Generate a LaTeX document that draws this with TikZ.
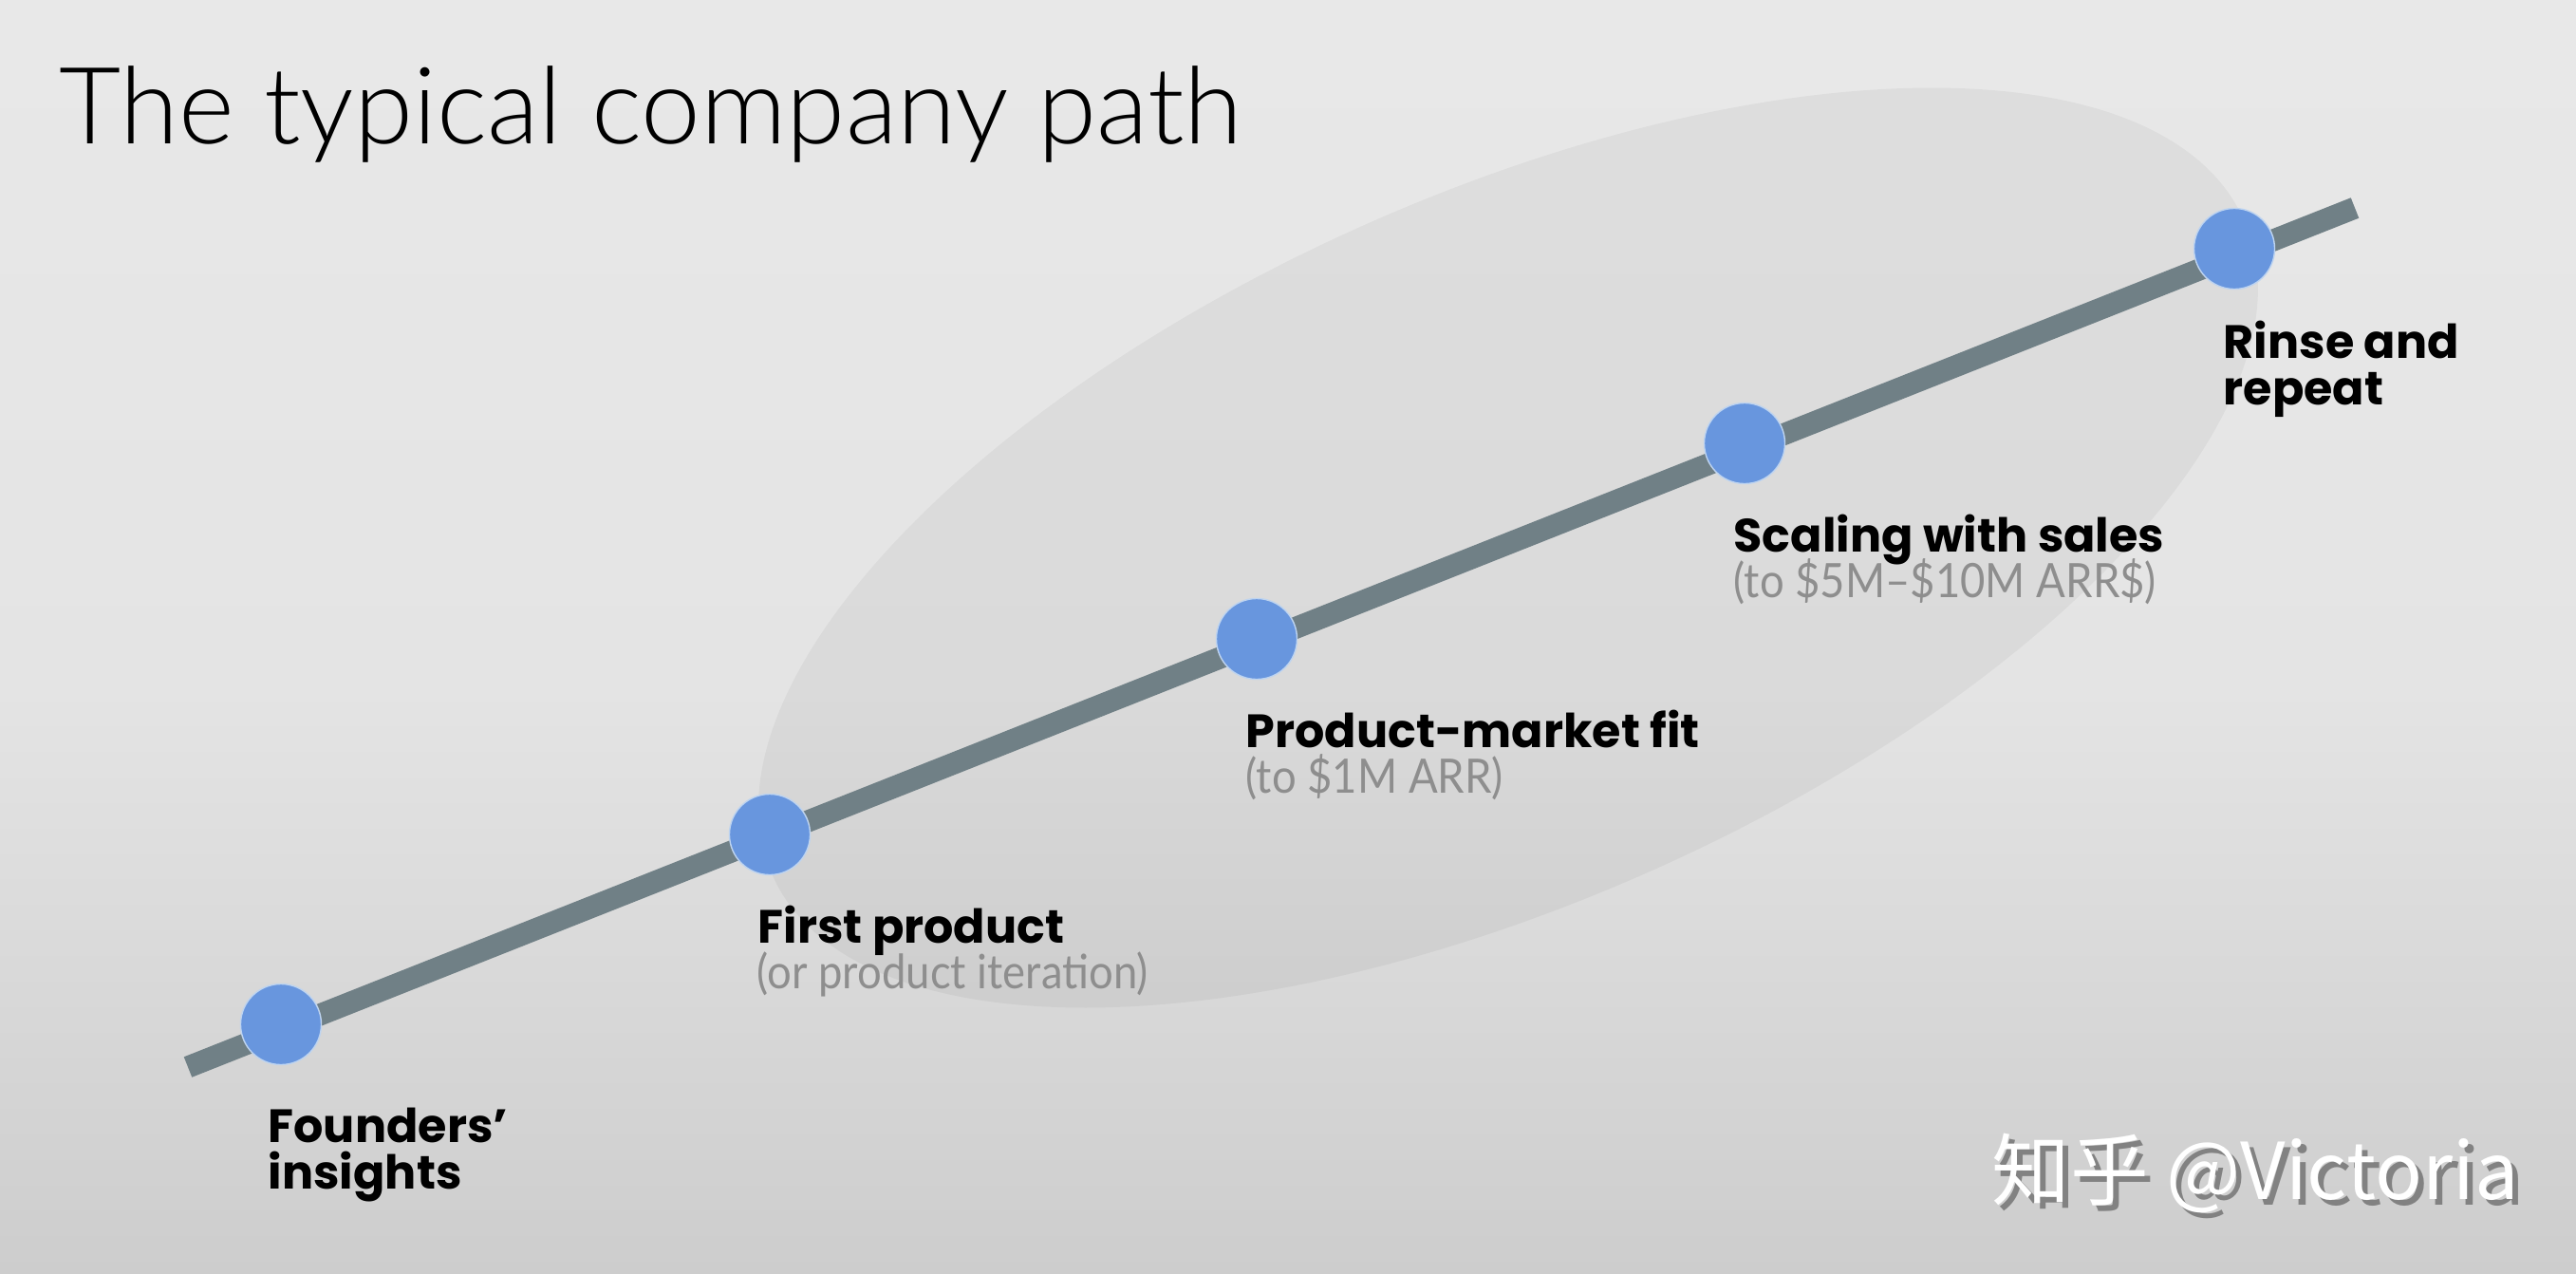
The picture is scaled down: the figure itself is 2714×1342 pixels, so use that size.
\documentclass[tikz,border=0pt]{standalone}
\usepackage{fontspec}
\setmainfont{Poppins}
\newfontfamily\titlefont{Lato Light}
\newfontfamily\greyfont{Lato}[FakeStretch=0.91]
\newfontfamily\cjkfont{Noto Sans CJK SC}
\definecolor{bgtop}{RGB}{236,236,236}
\definecolor{bgmid}{RGB}{228,228,228}
\definecolor{bglow}{RGB}{204,204,204}
\definecolor{bgbot}{RGB}{185,185,185}
\definecolor{pathgrey}{RGB}{112,128,134}
\definecolor{dotblue}{RGB}{104,150,222}
\definecolor{dothalo}{RGB}{190,212,240}
\definecolor{subgrey}{RGB}{142,142,142}
\definecolor{shadowgrey}{RGB}{130,130,130}
\pgfdeclareverticalshading{bgshade}{100bp}{color(0bp)=(bgbot); color(24bp)=(bglow); color(48bp)=(bgmid); color(100bp)=(bgtop)}
\begin{document}
\begin{tikzpicture}[x=0.01cm,y=-0.01cm,
  milestone/.style={circle, fill=dotblue, draw=dothalo, line width=0.4pt, minimum size=0.85cm, inner sep=0pt},
  headlab/.style={anchor=base west, inner sep=0pt, text=black, font=\fontsize{14}{17}\selectfont\bfseries},
  sublab/.style={anchor=base west, inner sep=0pt, text=subgrey, font=\greyfont\fontsize{14.2}{17}\selectfont},
  pathline/.style={draw=pathgrey, line width=0.23cm},
  wmark/.style={anchor=base west, inner sep=0pt, font=\cjkfont\fontsize{23.5}{28}\selectfont}]
\useasboundingbox (0,0) rectangle (2714,1342);
\shade[shading=bgshade] (0,0) rectangle (2714,1342);
\fill[black, fill opacity=0.045, rotate around={24:(1589,577)}] (1589,577) ellipse [x radius=8.48cm, y radius=3.72cm];
\node[anchor=base west, inner sep=0pt, font=\titlefont\fontsize{32}{36}\selectfont] (title) at (62,151) {The typical company path};
\coordinate (pathstart) at (198,1124);
\coordinate (pathend) at (2481,219);
\draw[pathline] (pathstart) -- (pathend);
\node[milestone] (m1) at (296,1079) {};
\node[milestone] (m2) at (811,879) {};
\node[milestone] (m3) at (1324,673) {};
\node[milestone] (m4) at (1838,467) {};
\node[milestone] (m5) at (2354,262) {};
\node[headlab] (l1a) at (282,1203) {Founders’};
\node[headlab] (l1b) at (282,1252) {insights};
\node[headlab] (l2a) at (798,993) {First product};
\node[sublab] (l2b) at (797,1041) {(or product iteration)};
\node[headlab] (l3a) at (1312,787) {Product-market fit};
\node[sublab] (l3b) at (1312,835) {(to \$1M ARR)};
\node[headlab] (l4a) at (1826,581) {Scaling with sales};
\node[sublab] (l4b) at (1826,629) {(to \$5M–\$10M ARR\$)};
\node[headlab] (l5a) at (2342,377) {Rinse and};
\node[headlab] (l5b) at (2342,426) {repeat};
\node[wmark, text=shadowgrey] (wmshadow) at (2104,1269) {知乎 @Victoria};
\node[wmark, text=white] (wm) at (2098,1263) {知乎 @Victoria};
\end{tikzpicture}
\end{document}
